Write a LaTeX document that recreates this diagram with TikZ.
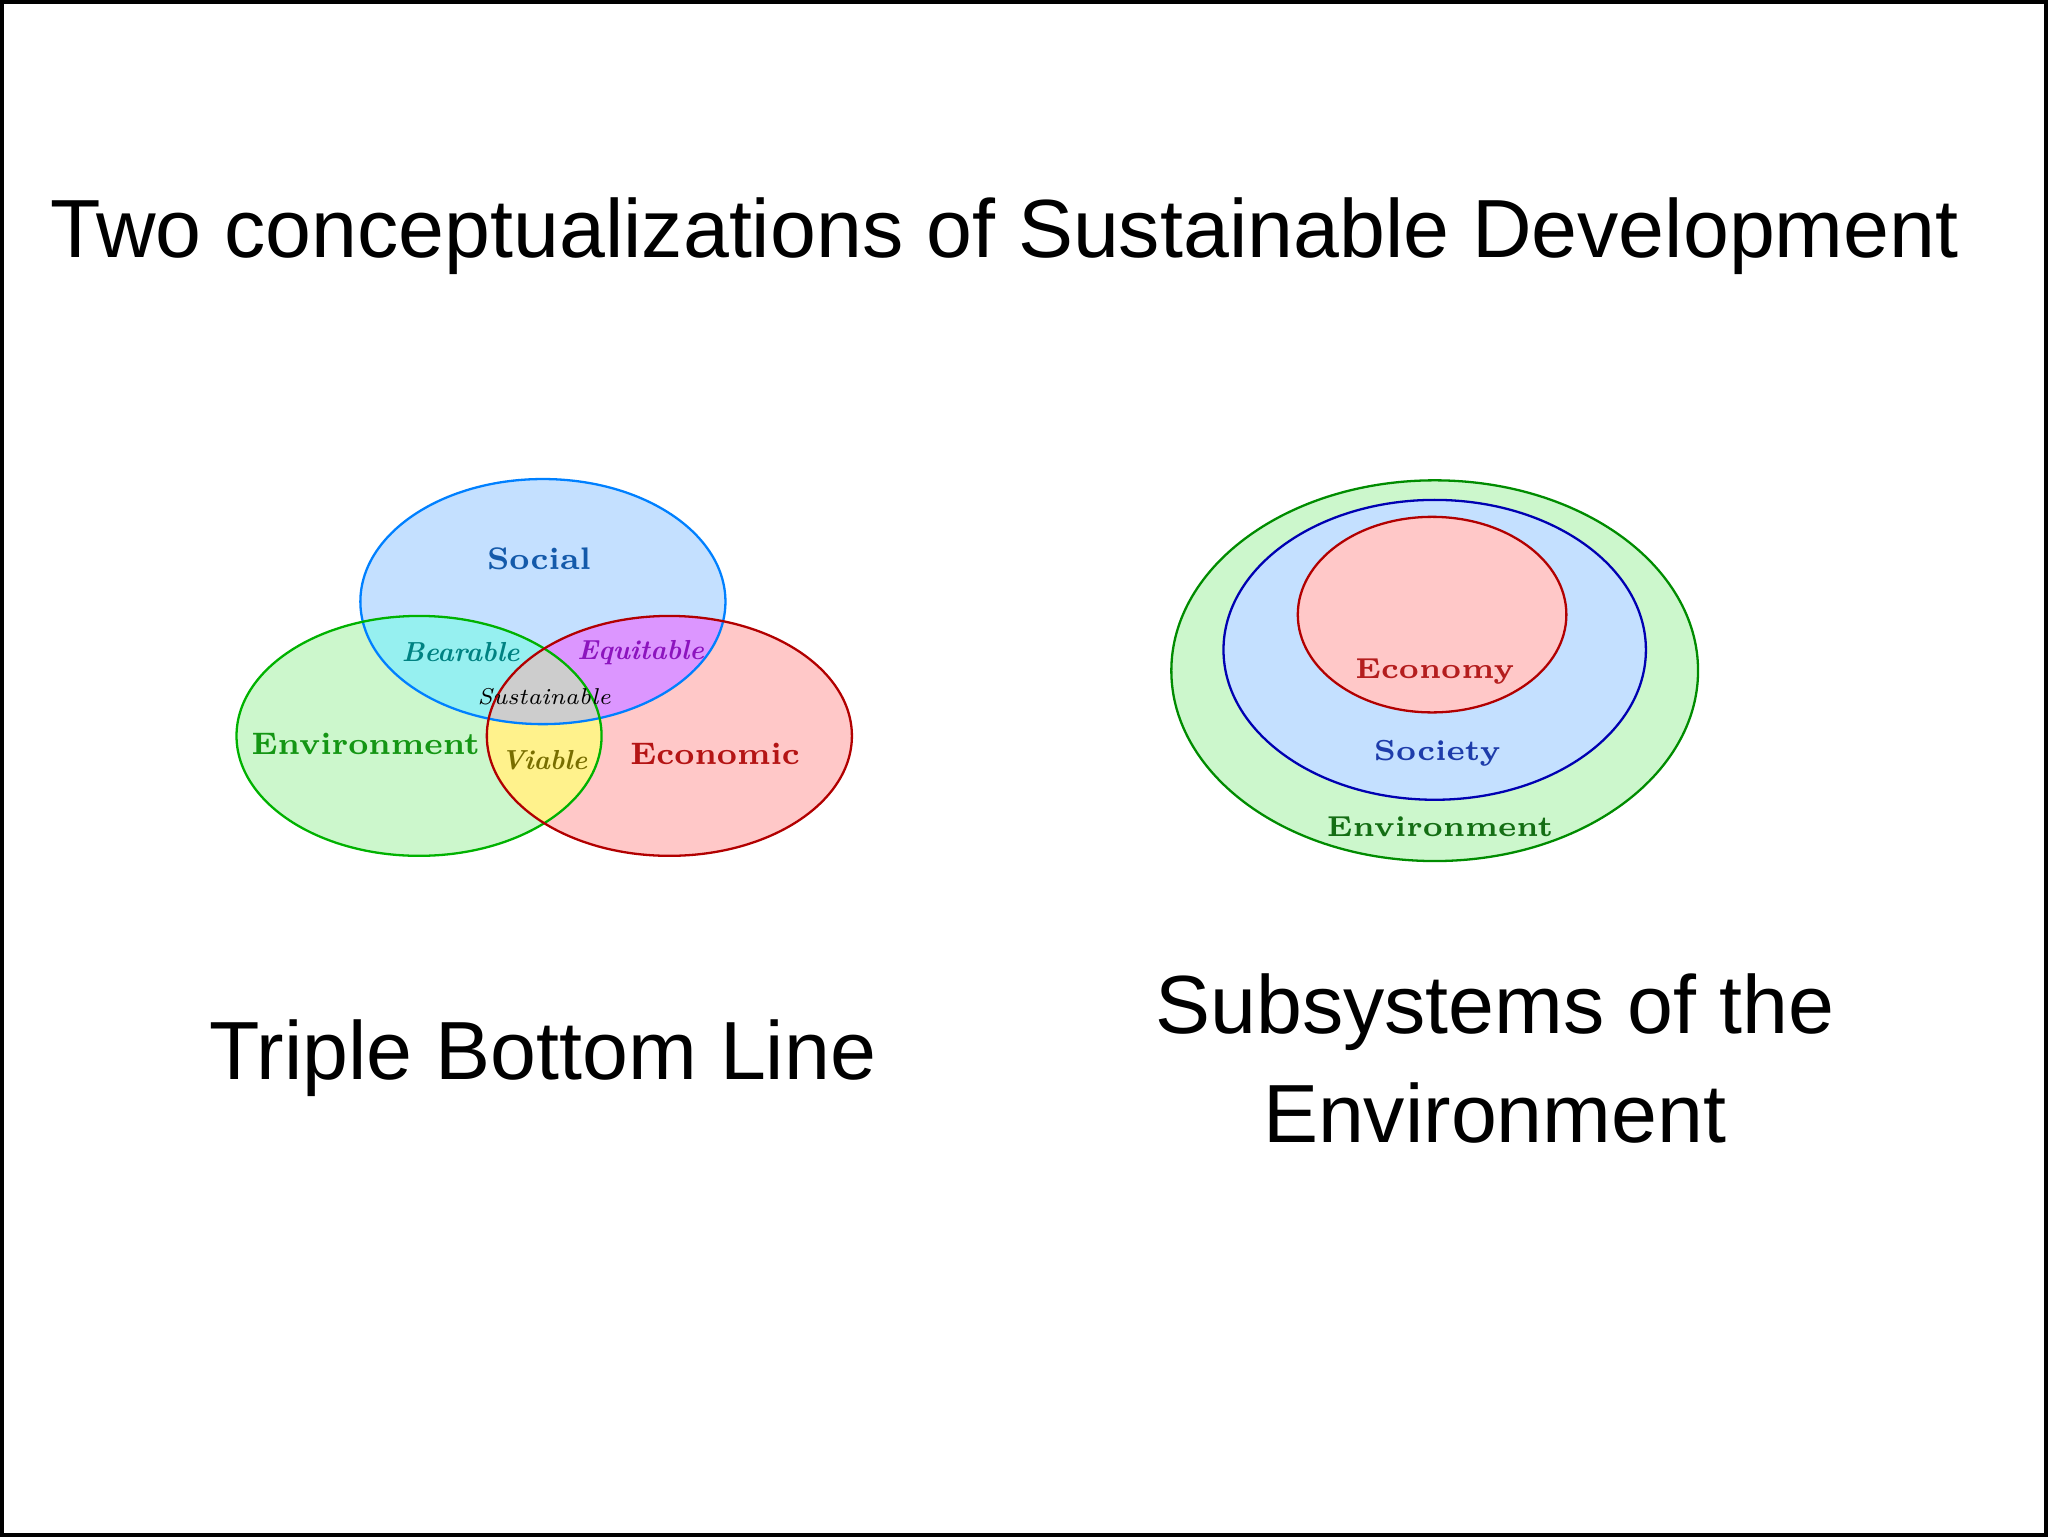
\documentclass[tikz,border=0pt]{standalone}
\usepackage{fontspec}
\newfontfamily\hel{Liberation Sans}
\begin{document}
\begin{tikzpicture}[x=0.01cm,y=-0.01cm,
  big/.style={font=\hel\fontsize{18}{22}\selectfont, inner sep=0},
  lab/.style={font=\bfseries\fontsize{6.8}{8}\selectfont, inner sep=0},
  ilab/.style={font=\bfseries\itshape\fontsize{6}{7}\selectfont, inner sep=0}]
\definecolor{socf}{RGB}{196,224,255}
\definecolor{envf}{RGB}{204,247,204}
\definecolor{ecof}{RGB}{255,200,200}
\definecolor{bearf}{RGB}{150,240,240}
\definecolor{equf}{RGB}{220,150,255}
\definecolor{viaf}{RGB}{255,242,140}
\definecolor{susf}{RGB}{205,205,205}
\draw[black, line width=0.8pt] (0,0) rectangle (1568,1176);
\useasboundingbox (0,0) rectangle (1568,1176);
\node[big] (title) at (769,180) {Two conceptualizations of Sustainable Development};
% Venn
\def\soc{(415,460) ellipse [x radius=140, y radius=94]}
\def\env{(320,563) ellipse [x radius=140, y radius=92]}
\def\eco{(512,563) ellipse [x radius=140, y radius=92]}
\fill[socf] \soc; \fill[envf] \env; \fill[ecof] \eco;
\begin{scope}\clip \soc; \fill[bearf] \env; \end{scope}
\begin{scope}\clip \soc; \fill[equf] \eco; \end{scope}
\begin{scope}\clip \env; \fill[viaf] \eco; \end{scope}
\begin{scope}\clip \soc; \clip \env; \fill[susf] \eco; \end{scope}
\draw[blue!50!cyan, line width=0.5pt] \soc;
\draw[green!70!black, line width=0.5pt] \env;
\draw[red!70!black, line width=0.5pt] \eco;
\node[lab, text={rgb,255:red,20;green,90;blue,170}] (social) at (412,427) {Social};
\node[ilab, text={rgb,255:red,0;green,130;blue,130}] (bear) at (352,499) {Bearable};
\node[ilab, text={rgb,255:red,140;green,20;blue,190}] (equ) at (490,499) {Equitable};
\node[font=\itshape\fontsize{5}{6}\selectfont, inner sep=0] (sus) at (416,533) {Sustainable};
\node[lab, text={rgb,255:red,20;green,150;blue,20}] (envl) at (279,569) {Environment};
\node[ilab, text={rgb,255:red,120;green,110;blue,0}] (via) at (416,582) {Viable};
\node[lab, text={rgb,255:red,180;green,20;blue,20}] (ecol) at (547,577) {Economic};
% nested
\filldraw[fill=envf, draw=green!55!black, line width=0.5pt] (1099,513) ellipse [x radius=202, y radius=146];
\filldraw[fill=socf, draw=blue!70!black, line width=0.5pt] (1099,497) ellipse [x radius=162, y radius=115];
\filldraw[fill=ecof, draw=red!70!black, line width=0.5pt] (1097,470) ellipse [x radius=103, y radius=75];
\node[lab, font=\bfseries\fontsize{6.3}{8}\selectfont, text={rgb,255:red,180;green,30;blue,30}] (economy) at (1099,514) {Economy};
\node[lab, font=\bfseries\fontsize{6.3}{8}\selectfont, text={rgb,255:red,30;green,60;blue,170}] (society) at (1101,576) {Society};
\node[lab, font=\bfseries\fontsize{6.3}{8}\selectfont, text={rgb,255:red,20;green,110;blue,20}] (envr) at (1103,633) {Environment};
% captions
\node[big] (tbl) at (415,810) {Triple Bottom Line};
\node[big] (sub1) at (1145,775) {Subsystems of the};
\node[big] (sub2) at (1145,852) {Environment};
\end{tikzpicture}
\end{document}
